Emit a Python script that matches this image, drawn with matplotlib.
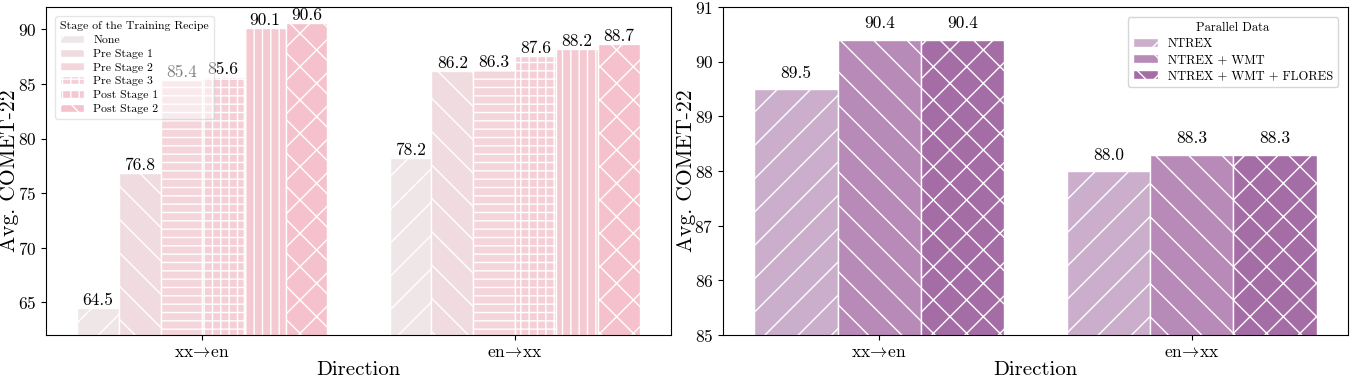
import numpy as np
import matplotlib
matplotlib.use("Agg")
import matplotlib.pyplot as plt

plt.rcParams["font.family"] = ["cmr10", "DejaVu Serif"]
plt.rcParams["mathtext.fontset"] = "cm"
plt.rcParams["axes.formatter.use_mathtext"] = True
plt.rcParams["hatch.color"] = "white"
plt.rcParams["hatch.linewidth"] = 1.0

# data
directions = [r"xx$\!\rightarrow\!$en", r"en$\!\rightarrow\!$xx"]

stages = ["None", "Pre Stage 1", "Pre Stage 2", "Pre Stage 3", "Post Stage 1", "Post Stage 2"]
stage_scores = {
    "None": [64.5, 78.2],
    "Pre Stage 1": [76.8, 86.2],
    "Pre Stage 2": [85.4, 86.3],
    "Pre Stage 3": [85.6, 87.6],
    "Post Stage 1": [90.1, 88.2],
    "Post Stage 2": [90.6, 88.7],
}

parallel = ["NTREX", "NTREX + WMT", "NTREX + WMT + FLORES"]
parallel_scores = {
    "NTREX": [89.5, 88.0],
    "NTREX + WMT": [90.4, 88.3],
    "NTREX + WMT + FLORES": [90.4, 88.3],
}

stage_colors = ["#efe6e8", "#f0dce0", "#f3d5db", "#f4cfd7", "#f5c9d2", "#f5c1cc"]
stage_hatches = ["/", "\\", "--", "++", "||", "x"]
par_colors = ["#caaecb", "#b88ab8", "#a56da6"]
par_hatches = ["/", "\\", "x"]

fig = plt.figure(figsize=(13.52, 3.78), dpi=100)
ax1 = fig.add_axes([46 / 1352, 43 / 378, 625 / 1352, 328 / 378])
ax2 = fig.add_axes([723 / 1352, 43 / 378, 625 / 1352, 328 / 378])

x = np.arange(len(directions))

# left panel
w = 0.8 / len(stages)
for i, s in enumerate(stages):
    pos = x - 0.4 + w * (i + 0.5)
    bars = ax1.bar(pos, stage_scores[s], w, color=stage_colors[i], hatch=stage_hatches[i],
                   edgecolor="white", linewidth=1, label=s)
    ax1.bar_label(bars, labels=[f"{v:.1f}" for v in stage_scores[s]], fontsize=12.5, padding=0)
ax1.set_ylim(62.0, 92.05)
ax1.set_xlim(-0.5, 1.5)
ax1.set_xticks(x)
ax1.set_xticklabels(directions, fontsize=12.5)
ax1.set_yticks([65, 70, 75, 80, 85, 90])
ax1.tick_params(axis="y", labelsize=12.5)
ax1.set_xlabel("Direction", fontsize=15, labelpad=1)
ax1.set_ylabel("Avg. COMET-22", fontsize=15.5, labelpad=-1)
ax1.legend(title="Stage of the Training Recipe", loc="upper left", fontsize=8.5,
           title_fontsize=8.5, labelspacing=0.3, borderaxespad=0.8, framealpha=0.5,
           alignment="left")

# right panel
w2 = 0.8 / len(parallel)
for i, p in enumerate(parallel):
    pos = x - 0.4 + w2 * (i + 0.5)
    bars = ax2.bar(pos, parallel_scores[p], w2, color=par_colors[i], hatch=par_hatches[i],
                   edgecolor="white", linewidth=1, label=p)
    ax2.bar_label(bars, labels=[f"{v:.1f}" for v in parallel_scores[p]], fontsize=12.5, padding=6)
ax2.set_ylim(85, 91)
ax2.set_xlim(-0.5, 1.5)
ax2.set_xticks(x)
ax2.set_xticklabels(directions, fontsize=12.5)
ax2.tick_params(axis="y", labelsize=12.5)
ax2.set_xlabel("Direction", fontsize=15, labelpad=1)
ax2.set_ylabel("Avg. COMET-22", fontsize=15.5, labelpad=-1)
ax2.legend(title="Parallel Data", loc="upper right", fontsize=9, title_fontsize=9,
           labelspacing=0.3, borderaxespad=0.8)

fig.savefig("out.png", dpi=100)
